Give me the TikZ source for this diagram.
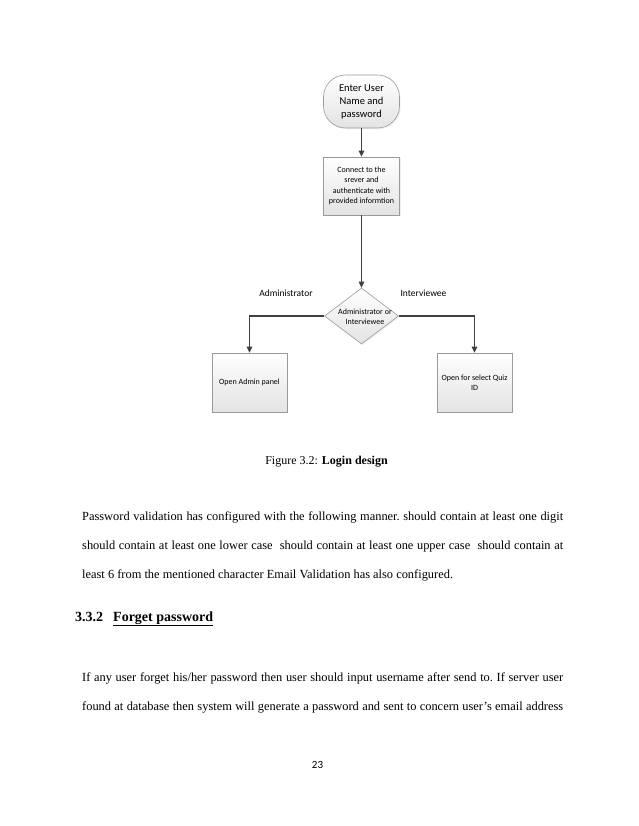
\documentclass[tikz,border=0pt]{standalone}
\usepackage{fontspec}
\setmainfont{Liberation Serif}
\newfontfamily\calibri{Carlito}
\usetikzlibrary{shapes.geometric,arrows.meta,shadows}
\definecolor{flowgray}{HTML}{404040}
\definecolor{edgegray}{HTML}{9A9A9A}
\tikzset{
  chartbox/.style={draw=edgegray, line width=0.6pt, top color=white, bottom color=gray!22,
    drop shadow={opacity=0.12, shadow xshift=1.2pt, shadow yshift=-1.2pt},
    minimum width=76pt, minimum height=58pt, inner sep=1pt, align=center,
    font=\calibri\fontsize{8}{10.4}\selectfont},
  terminal/.style={chartbox, rounded corners=22pt, minimum height=53pt,
    font=\calibri\fontsize{10.5}{13}\selectfont},
  decision/.style={chartbox, diamond, minimum width=74pt, minimum height=56pt, inner sep=0pt},
  chartlabel/.style={font=\calibri\fontsize{9.5}{11}\selectfont},
  flow/.style={draw=flowgray, line width=1.3pt, -{Triangle[length=6pt,width=5.5pt]}},
  bodytext/.style={anchor=base west, inner sep=0pt, text width=481pt, align=justify,
    font=\frenchspacing\fontsize{12.4}{29}\selectfont}
}
\begin{document}
\begin{tikzpicture}[x=1pt,y=-1pt]
  \useasboundingbox[fill=white] (0,0) rectangle (638,826);
  % flow chart
  \node[terminal] (start) at (361.5,101.5) {Enter User\\Name and\\password};
  \node[chartbox] (connect) at (361.5,186) {Connect to the\\srever and\\authenticate with\\provided informtion};
  \node[decision] (decide) at (361.5,316) {};
  \node[inner sep=0pt, align=center, font=\calibri\fontsize{8}{10.5}\selectfont] (decidelabel) at (365,317) {Administrator or\\Interviewee};
  \node[chartbox, minimum width=75pt, minimum height=59pt] (admin) at (249.5,382.5) {Open Admin panel};
  \node[chartbox, minimum width=75pt, minimum height=59pt] (quiz) at (474.5,382.5) {Open for select Quiz\\ID};
  \node[chartlabel] (adminlabel) at (286,293) {Administrator};
  \node[chartlabel] (quizlabel) at (423.5,293) {Interviewee};
  \draw[flow] (start) -- (connect);
  \draw[flow] (connect) -- (decide);
  \draw[flow] (decide.west) -| (admin);
  \draw[flow] (decide.east) -| (quiz);
  % page text
  \node[anchor=base, inner sep=0pt, font=\fontsize{12}{14}\selectfont] (caption) at (326.5,464)
    {Figure 3.2: \textbf{Login design}};
  \node[bodytext] (para1) at (82,520) {Password validation has configured with the following manner. should contain at least one digit\linebreak
    should contain at least one lower case \ should contain at least one upper case \ should contain at\linebreak
    least 6 from the mentioned character Email Validation has also configured.};
  \node[anchor=base west, inner sep=0pt, font=\bfseries\fontsize{14}{16}\selectfont] (heading) at (75,621)
    {3.3.2\hspace{10pt}\underline{Forget password}};
  \node[bodytext] (para2) at (82,681) {If any user forget his/her password then user should input username after send to. If server user\linebreak
    found at database then system will generate a password and sent to concern user’s email address\linebreak};
  \node[anchor=base, inner sep=0pt, font=\calibri\fontsize{11}{13}\selectfont] (pagenum) at (317.5,768) {23};
\end{tikzpicture}
\end{document}
